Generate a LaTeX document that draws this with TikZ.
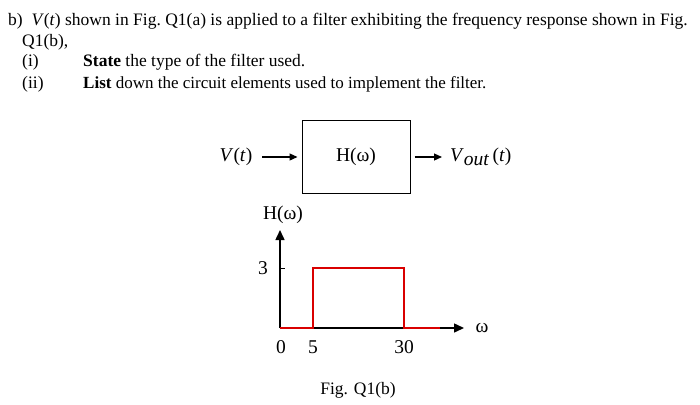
\documentclass[tikz,border=0pt]{standalone}
\usepackage{fontspec}
\setmainfont{Liberation Serif}
\usetikzlibrary{arrows.meta}
\begin{document}
\begin{tikzpicture}[x=1pt,y=-1pt,
  txt/.style={inner sep=0pt,font=\fontsize{17.5}{20}\selectfont},
  dtxt/.style={inner sep=0pt,font=\fontsize{19.5}{22}\selectfont},
  ax/.style={line width=1.5pt,-{Triangle[length=10pt,width=9pt]}},
  sig/.style={line width=1.2pt,-{Triangle[length=8pt,width=7pt]}},
  resp/.style={red!85!black,line width=1.8pt}]
\useasboundingbox (0,0) rectangle (700,404);
\node[txt,anchor=west] (b) at (8,21) {b)\ \ \textit{V}(\textit{t}) shown in Fig.\ Q1(a) is applied to a filter exhibiting the frequency response shown in Fig.};
\node[txt,anchor=west] (q) at (22,42) {Q1(b),};
\node[txt,anchor=west] (i) at (22,62) {(i)};
\node[txt,anchor=west] (it) at (83,62) {\textbf{State} the type of the filter used.};
\node[txt,anchor=west] (ii) at (22,84) {(ii)};
\node[txt,anchor=west,font=\fontsize{17}{20}\selectfont] (iit) at (83,84) {\textbf{List} down the circuit elements used to implement the filter.};
\node[draw,line width=1pt,minimum width=108pt,minimum height=73pt,dtxt] (box) at (356,157) {H(ω)};
\node[dtxt] (v) at (236,157) {\textit{V}(\textit{t})};
\node[dtxt,anchor=west] (vo) at (450,157) {\textit{V}$_{\textit{out}}$\,(\textit{t})};
\draw[sig] (v.east)++(10,0) coordinate (s1) -- ([xshift=-4pt]box.west);
\draw[sig] (box.east)++(4,0) coordinate (s2) -- ([xshift=-8pt]vo.west);
\coordinate (o) at (280,328);
\coordinate (yt) at (280,230);
\coordinate (xt) at (464,328);
\draw[ax] (o) -- (yt);
\draw[ax] (o) -- (xt);
\node[dtxt] (h) at (283,215) {H(ω)};
\node[dtxt] (w) at (482,328) {ω};
\node[dtxt] (t3) at (263,268) {3};
\draw (280,268) -- (285,268);
\draw[resp] (o) -- (313,328) -- (313,268) -- (404,268) -- (404,328) -- (440,328);
\node[dtxt] (l0) at (281,347) {0};
\node[dtxt] (l5) at (313,347) {5};
\node[dtxt] (l30) at (404,347) {30};
\node[txt] (cap) at (358,390) {Fig. Q1(b)};
\end{tikzpicture}
\end{document}
